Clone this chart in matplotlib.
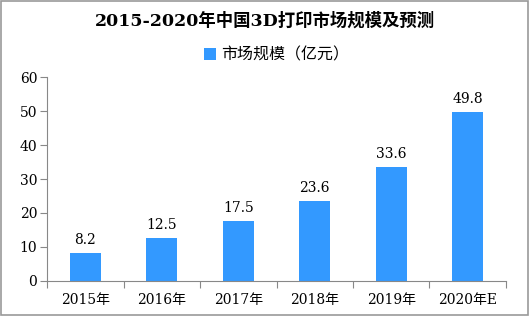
import matplotlib.pyplot as plt
from matplotlib.patches import Rectangle

# data
years = ["2015年", "2016年", "2017年", "2018年", "2019年", "2020年E"]
values = [8.2, 12.5, 17.5, 23.6, 33.6, 49.8]
series_name = "市场规模（亿元）"
title = "2015-2020年中国3D打印市场规模及预测"

plt.rcParams['font.family'] = ['DejaVu Serif', 'Noto Sans CJK SC']

fig = plt.figure(figsize=(5.30, 3.16), dpi=100)
ax = fig.add_axes([0.0887, 0.111, 0.866, 0.645])

x = range(len(years))
bars = ax.bar(x, values, width=0.4, color="#3399ff", label=series_name, zorder=2)
for xi, v in zip(x, values):
    ax.text(xi, v + 1.8, f"{v}", ha="center", va="bottom", fontsize=10)

ax.set_xlim(-0.5, len(years) - 0.5)
ax.set_ylim(0, 60)
ax.set_yticks(range(0, 61, 10))
ax.set_xticks([i - 0.5 for i in range(len(years) + 1)], minor=False)
ax.set_xticklabels([])
ax.set_xticks(list(x), minor=True)
ax.set_xticklabels(years, minor=True, fontsize=10)
ax.tick_params(axis="x", which="minor", length=0, pad=9)
ax.tick_params(axis="x", which="major", length=5, color="#888888", direction="out")
ax.tick_params(axis="y", length=5, color="#888888", labelsize=10, pad=2)

for s in ["top", "right"]:
    ax.spines[s].set_visible(False)
ax.spines["left"].set_color("#888888")
ax.spines["bottom"].set_color("#888888")

fig.text(0.5, 0.935, title, ha="center", va="center", fontsize=12.5, fontweight="bold",
         family=['DejaVu Serif', 'Noto Sans CJK SC'])
ax.legend(loc="center", bbox_to_anchor=(0.5, 1.11), frameon=False, fontsize=11.5,
          handlelength=0.8, handleheight=0.8, handletextpad=0.3)

fig.patches.append(Rectangle((0.002, 0.003), 0.995, 0.994, transform=fig.transFigure,
                             fill=False, edgecolor="#999999", linewidth=1.2))

fig.savefig("out.png", dpi=100)
